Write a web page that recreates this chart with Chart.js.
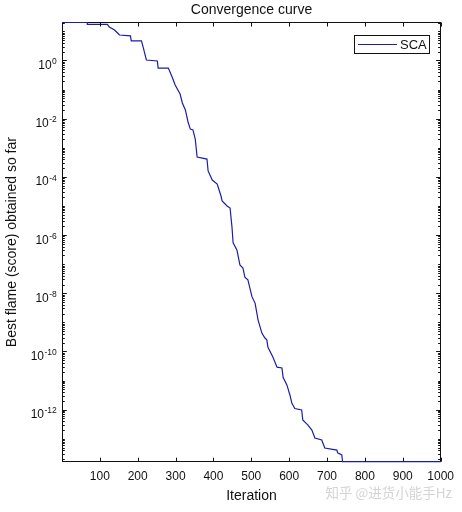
<!DOCTYPE html>
<html lang="en">
<head>
  <meta charset="UTF-8">
  <title>Convergence curve</title>
  <style>
    html, body { margin: 0; padding: 0; background: #fff; }
    #wrap { width: 462px; height: 512px; position: relative; }
  </style>
</head>
<body>
  <div id="wrap"><canvas id="curve"></canvas></div>

  <script src="https://cdn.jsdelivr.net/npm/chart.js"></script>
  <script>
    // Breakpoints of the best-so-far curve
    const iterations = [1, 67, 67, 120, 125, 139, 147, 152, 181, 183,
      210, 215, 223, 252, 254, 281, 291, 299, 312, 318,
      326, 333, 339, 346, 352, 357, 383, 386, 397, 410,
      420, 423, 436, 444, 449, 452, 462, 470, 478, 483,
      491, 502, 510, 518, 528, 536, 541, 544, 557, 568,
      581, 584, 594, 602, 607, 615, 633, 636, 649, 660,
      668, 686, 694, 726, 728, 739, 741, 1000];
    const bestScore = [20.2, 20.2, 17.3, 17.3, 14.2, 11.2, 8.8, 7.5, 7.0, 4.7,
      4.7, 2.7, 1.04, 0.96, 0.55, 0.55, 0.27, 0.144, 0.0706, 0.0347,
      0.0199, 7.7e-3, 4.4e-3, 4.1e-3, 2.0e-3, 4.8e-4, 4.1e-4, 1.6e-4, 7.8e-5, 5.7e-5,
      2.2e-5, 1.5e-5, 1.0e-5, 8.5e-6, 1.9e-6, 5.4e-7, 3.1e-7, 9.4e-8, 7.4e-8, 3.6e-8,
      2.9e-8, 7.5e-9, 4.6e-9, 1.2e-9, 4.3e-10, 2.9e-10, 2.5e-10, 1.4e-10, 6.5e-11, 2.9e-11,
      2.7e-11, 1.3e-11, 7.1e-12, 3.2e-12, 1.7e-12, 1.1e-12, 9.8e-13, 4.4e-13, 3.0e-13, 2.0e-13,
      1.06e-13, 9.1e-14, 4.8e-14, 4.1e-14, 3.3e-14, 2.8e-14, 1.63e-14, 1.63e-14];
    const seriesName = 'SCA';

    // tick labels
    const xTicks = [100, 200, 300, 400, 500, 600, 700, 800, 900, 1000];
    const yTickPowers = [0, -2, -4, -6, -8, -10, -12];

    const lineColor = '#1c1cab';
    const axisColor = '#111';
    const fontFamily = '"Liberation Sans", Arial, sans-serif';

    // axis tight, like MATLAB
    const yMin = Math.min(...bestScore);
    const yMax = Math.max(...bestScore);

    Chart.defaults.font.family = fontFamily;
    Chart.defaults.color = axisColor;

    // inward ticks on all four sides, superscript labels, boxed legend, watermark
    const matlabAxes = {
      id: 'matlabAxes',
      afterDraw(chart) {
        const { ctx, chartArea: a, scales: { x, y } } = chart;
        ctx.save();
        ctx.strokeStyle = axisColor;
        ctx.lineWidth = 1;
        ctx.beginPath();
        xTicks.forEach(v => {
          const px = Math.round(x.getPixelForValue(v)) + 0.5;
          ctx.moveTo(px, a.bottom); ctx.lineTo(px, a.bottom - 4);
          ctx.moveTo(px, a.top); ctx.lineTo(px, a.top + 4);
        });
        const lo = Math.floor(Math.log10(yMin));
        const hi = Math.ceil(Math.log10(yMax));
        for (let e = lo; e <= hi; e++) {
          for (let k = 1; k <= 9; k++) {
            const v = k * Math.pow(10, e);
            if (v < yMin || v > yMax) continue;
            const major = k === 1 && yTickPowers.includes(e);
            const len = major ? 4.5 : 2.5;
            const py = Math.round(y.getPixelForValue(v)) + 0.5;
            ctx.moveTo(a.left, py); ctx.lineTo(a.left + len, py);
            ctx.moveTo(a.right, py); ctx.lineTo(a.right - len, py);
          }
        }
        ctx.stroke();

        // y tick labels 10^p
        ctx.fillStyle = axisColor;
        ctx.textBaseline = 'alphabetic';
        ctx.textAlign = 'left';
        const xRight = a.left - 5.5;
        yTickPowers.forEach(p => {
          const py = y.getPixelForValue(Math.pow(10, p));
          const sup = p === 0 ? '0' : '-' + Math.abs(p);
          ctx.font = '8.5px ' + fontFamily;
          const supW = ctx.measureText(sup).width;
          ctx.fillText(sup, xRight - supW, py + 3.8);
          ctx.font = '12px ' + fontFamily;
          const baseW = ctx.measureText('10').width;
          ctx.fillText('10', xRight - supW - baseW - 0.5, py + 8.5);
        });

        // legend
        const ds = chart.data.datasets[0];
        ctx.fillStyle = '#fff';
        ctx.fillRect(354.5, 35.5, 75, 18);
        ctx.strokeStyle = axisColor;
        ctx.strokeRect(354.5, 35.5, 75, 18);
        ctx.strokeStyle = ds.borderColor;
        ctx.lineWidth = ds.borderWidth;
        ctx.beginPath();
        ctx.moveTo(358, 44.5); ctx.lineTo(397, 44.5);
        ctx.stroke();
        ctx.fillStyle = axisColor;
        ctx.font = '13px ' + fontFamily;
        ctx.textBaseline = 'middle';
        ctx.fillText(ds.label, 400, 45);

        // site watermark
        ctx.font = '13.5px "Noto Sans CJK SC", sans-serif';
        ctx.fillStyle = 'rgba(170,170,170,0.5)';
        ctx.textAlign = 'right';
        ctx.fillText('知乎 @进货小能手Hz', 452, 493);
        ctx.restore();
      }
    };

    const ctx = document.getElementById('curve').getContext('2d');
    new Chart(ctx, {
      type: 'line',
      data: {
        datasets: [{
          label: seriesName,
          data: iterations.map((it, i) => ({ x: it, y: bestScore[i] })),
          borderColor: lineColor,
          borderWidth: 1.2,
          pointRadius: 0,
          tension: 0,
          fill: false,
          clip: 2
        }]
      },
      options: {
        responsive: true,
        maintainAspectRatio: false,
        animation: false,
        layout: { padding: 0 },
        plugins: {
          legend: { display: false },
          tooltip: { enabled: false },
          title: { display: false }
        },
        scales: {
          x: {
            type: 'linear',
            position: 'bottom',
            min: 1,
            max: 1000,
            afterBuildTicks: s => { s.ticks = xTicks.map(v => ({ value: v })); },
            grid: { display: false, drawTicks: false },
            border: { display: true, color: axisColor, width: 1 },
            ticks: { font: { size: 12 }, padding: 8, maxRotation: 0, autoSkip: false, callback: v => String(v) },
            title: { display: true, text: 'Iteration', font: { size: 14 }, padding: { top: 0, bottom: 7 } },
            afterFit: s => { s.height = 50.3; }
          },
          xTop: {
            type: 'linear',
            position: 'top',
            display: true,
            min: 1,
            max: 1000,
            grid: { display: false, drawTicks: false },
            border: { display: true, color: axisColor, width: 1 },
            ticks: { display: false },
            title: { display: true, text: 'Convergence curve', font: { size: 14 }, padding: { top: 2, bottom: 0 } },
            afterFit: s => { s.height = 22.5; }
          },
          y: {
            type: 'logarithmic',
            position: 'left',
            min: yMin,
            max: yMax,
            afterBuildTicks: s => { s.ticks = yTickPowers.map(p => ({ value: Math.pow(10, p) })); },
            grid: { display: false, drawTicks: false },
            border: { display: true, color: axisColor, width: 1 },
            ticks: { callback: () => '' },
            title: { display: true, text: 'Best flame (score) obtained so far', font: { size: 14 }, padding: { top: 4, bottom: 0 } },
            afterFit: s => { s.width = 62.3; }
          },
          yRight: {
            type: 'logarithmic',
            position: 'right',
            display: true,
            min: yMin,
            max: yMax,
            grid: { display: false, drawTicks: false },
            border: { display: true, color: axisColor, width: 1 },
            ticks: { display: false },
            afterFit: s => { s.width = 21; }
          }
        }
      },
      plugins: [matlabAxes]
    });
  </script>
</body>
</html>
